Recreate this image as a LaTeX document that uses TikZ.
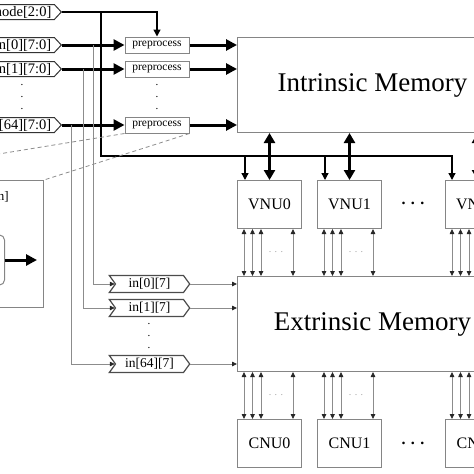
\documentclass[tikz,border=0pt]{standalone}
\usepackage{fontspec}
\setmainfont{Liberation Serif}
\usetikzlibrary{arrows.meta,shapes.symbols}
\definecolor{boxgray}{gray}{0.52}
\definecolor{linegray}{gray}{0.55}
\definecolor{headgray}{gray}{0.15}
\begin{document}
\begin{tikzpicture}[x=1pt,y=-1pt,
  box/.style={draw=boxgray, line width=1pt, inner sep=0pt},
  pre/.style={box, minimum width=64pt, minimum height=16pt, font=\fontsize{11.5}{12}\selectfont},
  unit/.style={box, anchor=north west, minimum width=64pt, minimum height=48pt, font=\fontsize{16}{18}\selectfont},
  mem/.style={box, anchor=north west, minimum width=270pt, minimum height=95pt, font=\fontsize{27}{30}\selectfont},
  sigin/.style={signal, signal to=east, signal from=west, signal pointer angle=94, draw=black!80, line width=1pt, anchor=east, minimum height=15pt, inner xsep=3pt, inner ysep=0pt, font=\fontsize{14.5}{15}\selectfont},
  sigx/.style={signal, signal to=east, signal from=west, signal pointer angle=108, draw=black!70, line width=1.2pt, minimum height=17pt, text width=66pt, align=center, inner xsep=1pt, inner ysep=0pt, font=\fontsize{13.5}{14}\selectfont},
  thk/.style={line width=3pt, -{Triangle[length=11pt,width=11pt]}},
  dthk/.style={line width=3pt, {Triangle[length=10pt,width=11pt]}-{Triangle[length=10pt,width=11pt]}},
  modeln/.style={line width=1.3pt, black},
  modearr/.style={modeln, -{Triangle[length=7pt,width=7pt]}},
  thinarr/.style={draw=linegray, line width=0.8pt, -{Triangle[length=5pt,width=4.5pt,color=headgray]}},
  thin2/.style={draw=linegray, line width=0.8pt, {Triangle[length=5pt,width=4.5pt,color=headgray]}-{Triangle[length=5pt,width=4.5pt,color=headgray]}},
  dsh/.style={draw=linegray, line width=0.8pt, dash pattern=on 4pt off 3pt},
  vdots/.style={align=center, inner sep=0pt, font=\fontsize{11}{12}\selectfont},
  bigdots/.style={inner sep=0pt, font=\fontsize{16}{18}\selectfont\bfseries},
  smdots/.style={inner sep=0pt, text=gray!70, font=\fontsize{10}{10}\selectfont}
]
\useasboundingbox (0,0) rectangle (474,474);

% input signals
\node[sigin] (mode) at (62,12) {mode[2:0]};
\node[sigin] (in0) at (62,45) {in[0][7:0]};
\node[sigin] (in1) at (62,69) {in[1][7:0]};
\node[sigin] (in64) at (62,125) {in[64][7:0]};
\node[vdots] (dl) at (22,97) {.\\.\\.};

% preprocess
\node[pre] (p0) at (157,45) {preprocess};
\node[pre] (p1) at (157,69) {preprocess};
\node[pre] (p64) at (157,125) {preprocess};
\node[vdots] (dp) at (157,97) {.\\.\\.};

% memories
\node[mem] (im) at (237,37) {Intrinsic Memory};
\node[mem] (em) at (237,276) {Extrinsic Memory};

% units
\node[unit] (v0) at (237,180) {VNU0};
\node[unit] (v1) at (317,180) {VNU1};
\node[unit] (v2) at (445,180) {VNU2};
\node[unit] (c0) at (237,419) {CNU0};
\node[unit] (c1) at (317,419) {CNU1};
\node[unit] (c2) at (445,419) {CNU2};
\node[bigdots] (vd) at (413,203) {. . .};
\node[bigdots] (cd) at (413,443) {. . .};

% thick data arrows
\draw[thk] (in0.east) -- (p0.west);
\draw[thk] (in1.east) -- (p1.west);
\draw[thk] (in64.east) -- (p64.west);
\draw[thk] (p0.east) -- (p0.east -| im.west);
\draw[thk] (p1.east) -- (p1.east -| im.west);
\draw[thk] (p64.east) -- (p64.east -| im.west);

% mode line
\coordinate (br) at (101,156);
\draw[modearr] (mode.east) -- (p0.north |- mode.east) -- (p0.north);
\draw[modearr] (br |- mode.east) -- (br) -- ([xshift=7pt]v2.north west |- br) -- ([xshift=7pt]v2.north west);
\draw[modearr] ([xshift=8pt]v0.north west |- br) -- ([xshift=8pt]v0.north west);
\draw[modearr] ([xshift=8pt]v1.north west |- br) -- ([xshift=8pt]v1.north west);

% intrinsic <-> VNU
\draw[dthk] (im.south -| v0.north) -- (v0.north);
\draw[dthk] (im.south -| v1.north) -- (v1.north);
\draw[dthk] (im.south -| v2.north) -- (v2.north);

% VNU <-> extrinsic, extrinsic <-> CNU
\foreach \u/\c in {v0/c0, v1/c1}{
  \foreach \o in {7,15.5,24,56}{
    \draw[thin2] ([xshift=\o pt]\u.south west) -- ([xshift=\o pt]\u.south west |- em.north);
    \draw[thin2] ([xshift=\o pt]\c.north west |- em.south) -- ([xshift=\o pt]\c.north west);
  }
}
\foreach \o in {7,15.5,24}{
  \draw[thin2] ([xshift=\o pt]v2.south west) -- ([xshift=\o pt]v2.south west |- em.north);
  \draw[thin2] ([xshift=\o pt]c2.north west |- em.south) -- ([xshift=\o pt]c2.north west);
}
\node[smdots] (sd0) at (276,252) {. . .};
\node[smdots] (sd1) at (356,252) {. . .};
\node[smdots] (sd2) at (276,395) {. . .};
\node[smdots] (sd3) at (356,395) {. . .};

% sign bits to extrinsic memory
\node[sigx] (e0) at (149.5,284) {in[0][7]};
\node[sigx] (e1) at (149.5,308) {in[1][7]};
\node[sigx] (e64) at (149.5,364) {in[64][7]};
\node[vdots] (de) at (149,336) {.\\.\\.};
\coordinate (s0) at (93,45);
\coordinate (s1) at (83,69);
\coordinate (s64) at (71,125);
\draw[thinarr] (s0) |- (e0.west);
\draw[thinarr] (s1) |- (e1.west);
\draw[thinarr] (s64) |- (e64.west);
\draw[thinarr] (e0.east) -- (e0.east -| em.west);
\draw[thinarr] (e1.east) -- (e1.east -| em.west);
\draw[thinarr] (e64.east) -- (e64.east -| em.west);

% inset (detail of preprocess)
\node[box, anchor=north east, minimum width=204pt, minimum height=127pt] (inset) at (44,180) {};
\node[anchor=east, inner sep=0pt, font=\fontsize{13}{14}\selectfont] (ititle) at (9,197) {in[n]};
\node[draw=boxgray, line width=1pt, rounded corners=5pt, anchor=east, minimum width=30pt, minimum height=50pt] (rs) at (5,260) {};
\coordinate (iout) at (37,260);
\draw[thk] (rs.east) -- (iout);
\draw[dsh] (p64.south west) -- (inset.north west);
\draw[dsh] (p64.south east) -- (inset.north east);
\end{tikzpicture}
\end{document}
